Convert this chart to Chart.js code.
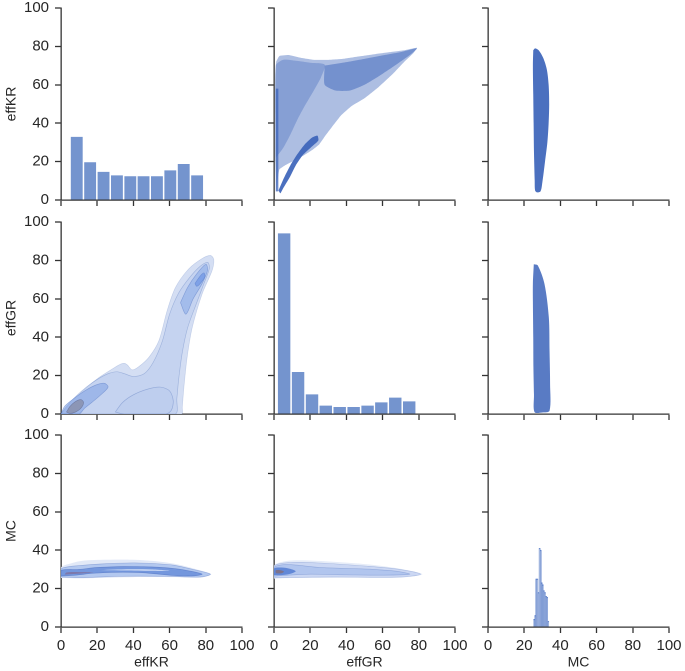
<!DOCTYPE html>
<html>
<head>
<meta charset="utf-8">
<script src="https://cdn.jsdelivr.net/npm/chart.js@4.4.1/dist/chart.umd.min.js"></script>
<style>
  html, body { margin: 0; padding: 0; background: #fff; overflow: hidden; }
  body { width: 685px; height: 671px; position: relative; }
  canvas { position: absolute; }
</style>
</head>
<body>
<canvas id="c00"></canvas><canvas id="c01"></canvas><canvas id="c02"></canvas>
<canvas id="c10"></canvas><canvas id="c11"></canvas><canvas id="c12"></canvas>
<canvas id="c20"></canvas><canvas id="c21"></canvas><canvas id="c22"></canvas>
<script>
// variable names (rows / columns of the pair grid)
const varNames = ["effKR", "effGR", "MC"];
const tickValues = [0, 20, 40, 60, 80, 100];

// diagonal histograms (bin centres and heights)
const krBins = [8.7, 16.1, 23.5, 30.9, 38.3, 45.6, 53.0, 60.4, 67.8, 75.2];
const krCounts = [33.2, 20.0, 15.0, 13.2, 12.7, 12.7, 12.7, 15.8, 19.1, 13.2];
const grBins = [5.6, 13.3, 21.0, 28.6, 36.3, 44.0, 51.7, 59.3, 67.0, 74.7];
const grCounts = [94.4, 22.2, 10.6, 4.7, 4.0, 4.0, 4.7, 6.4, 8.9, 6.9];
const mcBins = [25.5, 26.1, 26.7, 27.3, 27.9, 28.5, 29.1, 29.7, 30.3, 30.9, 31.5, 32.1, 32.7, 33.3];
const mcCounts = [4, 6, 25, 25, 18, 41, 40, 23, 22, 19, 18, 16, 15.5, 3];

// scatter effGR (x) vs effKR (y): outlines of the point cloud by density
const grKrSparse = [[1.5,4],[0.8,20],[0.8,45],[0.8,65],[1.2,72],[3,75],[8,75.5],[15,74],[22,73],[30,73],[38,73.5],[47,74.8],[56,76],[64,77],[72,78],[79,79.3],[77,76.5],[72,72],[66,66],[58,59],[50,53],[43,49],[37,44],[32,38],[28,33],[25,29],[21,26],[16,23],[10,20],[6,18],[3,16],[2,10]];
const grKrLeft = [[1,22],[1,70],[5,73],[12,72.5],[20,71.5],[28,70.5],[26,64],[22,57],[17,49],[13,42],[9,34],[5,27]];
const grKrDense = [[28,70],[40,71.8],[50,73.5],[60,75.3],[70,77],[79,79],[75,75.5],[66,69.5],[58,64.5],[50,60],[42,57],[34,57],[28,60]];
const grKrHorn = [[2.5,5],[5.5,11.5],[9,18],[13,24],[17,29],[21,32.5],[24,33.5],[24.5,31],[20.5,27.5],[16,23.5],[12,18],[8.5,11.5],[5,6],[3.5,3.5]];
const grKrStreak = [[1,4.5],[1,58],[2.4,58],[2.4,4.5]];

// scatter MC (x) vs effKR (y) and MC (x) vs effGR (y)
const mcKrBand = [[25,78],[24.8,70],[25,55],[25.2,40],[25.4,25],[25.8,10],[26,5],[27,4],[29,4.5],[30,9],[31.5,20],[32.8,30],[33.5,40],[33.8,50],[33.5,60],[32.5,68],[30.5,74],[28,78],[26,79]];
const mcGrBand = [[25.3,78],[24.8,68],[24.8,59],[25,40],[25.1,24],[25.4,10],[25.7,1],[30,0.8],[34,1.7],[34.3,15.7],[34,33],[33.6,50.4],[31.2,67.8],[27.5,77.4]];

// KDE effKR (x) vs effGR (y): nested density levels
const krGrL1 = [[0,0],[0.5,0.5],[4.6,5.2],[12,12],[21,19],[28.4,23.5],[33,26],[35,26.4],[36.7,25.5],[39.3,23],[43,24.7],[48.6,29.6],[54,38],[58.7,54],[63.3,66],[70.6,75.6],[78,81],[82.6,82.6],[84.4,80.5],[83.5,74.8],[78,62.6],[72.5,45],[69.7,29.6],[67.9,13.9],[67,3.5],[66.6,0]];
const krGrL2 = [[0,0],[3,4],[8,9],[14,14],[20,18],[26,21],[31,22],[35,21],[40,19.5],[46,21],[51,27],[56,38],[60,52],[65,63],[71,71],[77,77],[81,79],[82,76],[79,68],[75,58],[70,45],[67,32],[65,18],[64,8],[63,0]];
const krGrL3a = [[0,0],[2,4],[7,8],[13,12],[19,15],[24,16],[26,14],[22,10],[17,6],[13,3],[10,0]];
const krGrL3b = [[30,1],[34,6],[40,10],[48,13],[55,14],[60,12],[62,7],[61,2],[58,0],[35,0]];
const krGrL3c = [[66,58],[70,66],[75,73],[80,78],[81,75],[78,68],[73,60],[69,52]];
const krGrCoreA = [[3,1],[5,4],[8,6.5],[11,7.5],[12.5,6],[11,3],[8,1],[5,0.3]];
const krGrCoreB = [[74,68],[77,72],[79,73.5],[79.5,71.5],[77,68],[75,66.5]];

// KDE effKR (x) vs MC (y)
const krMcL1 = [[0,25.5],[0,31],[5,33],[12,34.5],[25,35],[40,35],[55,34],[65,32.5],[75,30],[83,27.5],[78,26],[60,26],[40,26],[20,25.5],[10,25.3]];
const krMcL2 = [[0,26],[0,30.4],[12.7,32.2],[25,33],[40.3,33.4],[52,33],[62.3,32.2],[73.3,29.9],[82.5,27.5],[77,26],[58.6,26.4],[31,26.4],[12.7,25.7]];
const krMcL3 = [[0,26.5],[0,29.5],[10,30],[20,31],[35,31.5],[50,31.3],[62,30.5],[72,29],[78,27.5],[72,26.6],[60,27],[45,28.3],[30,28.5],[18,28],[8,27]];
const krMcL4 = [[20,29.6],[35,30.1],[50,30],[60,29.3],[50,29.2],[35,29.4]];
const krMcCore = [[2,27.3],[10,27.8],[18,28.4],[10,28.6],[3,28.4]];

// KDE effGR (x) vs MC (y)
const grMcL1 = [[0,25.2],[0,32],[8,34.5],[23,34.5],[40,33.5],[55,32.3],[70,30.3],[82,27.5],[70,25.8],[40,25.8],[10,25.5]];
const grMcL2 = [[0,25.6],[0,31.8],[8.8,33.6],[23.6,33.4],[51.2,31.7],[69.6,30],[81,27.5],[69.6,26],[32.8,26],[10,25.8]];
const grMcL3 = [[0,26.5],[0,31],[6,32.5],[15,32],[25,31],[40,30.5],[55,30],[68,29],[75,27.5],[60,27],[40,27.2],[20,27.5],[8,27]];
const grMcL4 = [[0,27],[0,30.5],[4,31],[9,30.3],[12,29],[8,27.5],[3,27]];
const grMcCore = [[1,28],[1,29.5],[4,29.5],[5.5,28.8],[4,28]];

// ---- drawing ----
const FONT = '"Liberation Sans", Arial, sans-serif';
const INK = "#262626";
const HIST = "rgb(116,148,206)";
const plotLeft = [60.5, 274, 488.3];
const plotTop = [8.3, 221.7, 435];
const CW = 255, CH = 244;

const pts = (arr) => arr.map(([x, y]) => ({ x: x, y: y }));

function poly(arr, fill, line, tension) {
  const closed = arr.concat([arr[0]]);
  return {
    type: "line",
    data: pts(closed),
    showLine: true,
    fill: "shape",
    backgroundColor: fill,
    borderColor: line || "rgba(0,0,0,0)",
    borderWidth: line ? 0.6 : 0,
    pointRadius: 0,
    tension: tension === undefined ? 0.3 : tension,
  };
}

function bars(centers, heights, fill, edge, edgeW) {
  return {
    type: "bar",
    data: centers.map((c, i) => ({ x: c, y: heights[i] })),
    backgroundColor: fill,
    borderColor: edge,
    borderWidth: edgeW,
    barPercentage: 1,
    categoryPercentage: 1,
  };
}

function axis(isX, title, showLabels, showTitle) {
  return {
    type: "linear",
    min: 0,
    max: 100,
    offset: false,
    border: { display: true, color: "#333", width: 1.3 },
    grid: {
      display: true, drawOnChartArea: false, drawTicks: true, offset: false,
      tickLength: 6, tickWidth: 1.3, tickColor: "#333", color: "#333",
    },
    afterBuildTicks: (s) => { s.ticks = tickValues.map((v) => ({ value: v })); },
    ticks: {
      display: showLabels, color: INK, font: { family: FONT, size: 15 },
      padding: isX ? 4 : 6, maxRotation: 0, autoSkip: false,
    },
    title: {
      display: showTitle, text: title, color: INK,
      font: { family: FONT, size: 14 },
      padding: isX ? { top: 0, bottom: 0 } : { top: 2, bottom: 0 },
    },
    afterFit: (s) => {
      if (isX) { s.height = 44; s.paddingLeft = 0; s.paddingRight = 0; }
      else { s.width = 60; s.paddingTop = 0; s.paddingBottom = 0; }
    },
  };
}

// datasets for each cell [row][col]; listed bottom layer first
const cells = [
  [
    { type: "bar", sets: [bars(krBins, krCounts, HIST, "#ffffff", 1)] },
    { type: "scatter", sets: [
      poly(grKrSparse, "rgba(60,100,186,0.42)", null, 0.12),
      poly(grKrLeft, "rgba(60,100,186,0.35)", null, 0.25),
      poly(grKrDense, "rgba(60,100,186,0.5)", null, 0.2),
      poly(grKrHorn, "rgba(60,100,186,0.92)", null, 0.2),
      poly(grKrStreak, "rgba(60,100,186,0.75)", null, 0),
    ] },
    { type: "scatter", sets: [poly(mcKrBand, "rgba(60,100,186,0.92)")] },
  ],
  [
    { type: "scatter", sets: [
      poly(krGrL1, "rgb(212,222,243)", "rgba(120,145,200,0.35)"),
      poly(krGrL2, "rgba(175,195,235,0.4)", "rgba(100,130,195,0.45)"),
      poly(krGrL3a, "rgba(120,155,225,0.5)", "rgba(80,115,195,0.5)"),
      poly(krGrL3b, "rgba(175,195,235,0.3)", "rgba(100,130,195,0.5)"),
      poly(krGrL3c, "rgba(130,165,230,0.5)", "rgba(80,115,195,0.5)"),
      poly(krGrCoreA, "rgb(140,150,182)", "rgba(90,100,140,0.6)"),
      poly(krGrCoreB, "rgba(110,150,230,0.7)", "rgba(80,115,195,0.5)"),
    ] },
    { type: "bar", sets: [bars(grBins, grCounts, HIST, "#ffffff", 1)] },
    { type: "scatter", sets: [poly(mcGrBand, "rgba(60,100,186,0.85)")] },
  ],
  [
    { type: "scatter", sets: [
      poly(krMcL1, "rgb(226,233,247)"),
      poly(krMcL2, "rgba(160,185,235,0.7)", "rgba(100,130,200,0.5)"),
      poly(krMcL3, "rgba(95,135,215,0.75)", "rgba(70,105,190,0.6)"),
      poly(krMcL4, "rgba(205,218,244,0.9)"),
      poly(krMcCore, "rgb(125,120,170)"),
    ] },
    { type: "scatter", sets: [
      poly(grMcL1, "rgb(230,236,248)"),
      poly(grMcL2, "rgba(200,213,242,0.9)", "rgba(120,145,205,0.45)"),
      poly(grMcL3, "rgba(170,192,236,0.8)", "rgba(100,130,200,0.45)"),
      poly(grMcL4, "rgba(85,125,210,0.85)"),
      poly(grMcCore, "rgb(125,115,140)"),
    ] },
    { type: "bar", sets: [bars(mcBins, mcCounts, "rgba(116,148,206,0.55)", "rgba(70,110,195,0.8)", 0.6)] },
  ],
];

for (let r = 0; r < 3; r++) {
  for (let c = 0; c < 3; c++) {
    const cv = document.getElementById("c" + r + c);
    cv.width = CW;
    cv.height = CH;
    cv.style.left = plotLeft[c] - 60 + "px";
    cv.style.top = plotTop[r] - 8 + "px";
    const sets = cells[r][c].sets.slice().reverse();
    new Chart(cv.getContext("2d"), {
      type: cells[r][c].type,
      data: { datasets: sets },
      options: {
        responsive: false,
        animation: false,
        devicePixelRatio: 2,
        layout: { padding: { left: 0, top: 8, right: 14, bottom: 0 } },
        plugins: { legend: { display: false }, tooltip: { enabled: false } },
        scales: {
          x: axis(true, varNames[c], r === 2, r === 2),
          y: axis(false, varNames[r], c === 0, c === 0),
        },
      },
    });
    cv.style.width = CW + "px";
    cv.style.height = CH + "px";
  }
}
</script>
</body>
</html>
